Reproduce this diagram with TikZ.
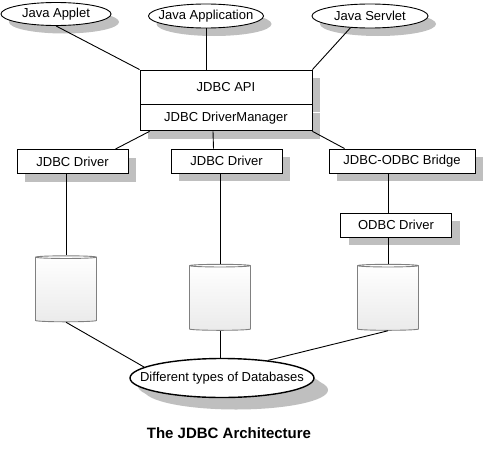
\documentclass[tikz,border=0pt]{standalone}
\usepackage{fontspec}
\setmainfont{Liberation Sans}
\usetikzlibrary{positioning,shapes.geometric,shadows}
\newdimen\shadowDist
\shadowDist=8pt

\begin{document}
\begin{tikzpicture}[
    x=1pt, y=-1pt,
    line width=0.9pt,
    font=\fontsize{13}{15}\selectfont,
    prog/.style={%
      draw,
      ellipse,
      fill=white,
      inner xsep=-8pt,
      inner ysep=0pt,
      minimum height=24pt,
      drop shadow={shadow xshift=\shadowDist, shadow yshift=-\shadowDist, fill=black!25, opacity=1},
    },
    box/.style={%
      draw,
      rectangle,
      fill=white,
      inner sep=0pt,
      minimum height=24pt,
      drop shadow={shadow xshift=\shadowDist, shadow yshift=-\shadowDist, fill=black!25, opacity=1},
    },
    store/.style={%
      draw=black!50,
      cylinder,
      shape border rotate=90,
      shape aspect=0.4,
      minimum width=61pt,
      minimum height=66pt,
      top color=white,
      bottom color=black!8,
    },
  ]

    \useasboundingbox (0,0) rectangle (500,463);

    \node [prog, minimum width=110pt, minimum height=23pt] (Applet) at (56,14) {Java Applet};
    \node [prog, minimum width=115pt] (App) at (206,16) {Java Application};
    \node [prog, minimum width=116pt] (Servlet) at (370,16) {Java Servlet};

    \node [box, minimum width=172pt, minimum height=34pt] (API) at (226,87) {JDBC API};
    \node [box, minimum width=172pt, minimum height=26pt, below=0pt of API] (DM) {JDBC DriverManager};

    \node [box, minimum width=111pt] (D1) at (72.5,161.5) {JDBC Driver};
    \node [box, minimum width=111pt] (D2) at (226.5,161) {JDBC Driver};
    \node [box, minimum width=146pt] (Br) at (402,161) {JDBC-ODBC Bridge};
    \node [box, minimum width=111pt] (OD) at (396,225) {ODBC Driver};

    \node [store] (C1) at (66,290) {};
    \node [store] (C2) at (220,298.5) {};
    \node [store] (C3) at (388,298.5) {};

    \node [prog, line width=1.4pt, inner xsep=-17pt, minimum width=184pt, minimum height=39pt,
      drop shadow={shadow xshift=14pt, shadow yshift=-12pt, fill=black!25, opacity=1}]
      (DB) at (222,378) {Different types of Databases};

    \node [font=\bfseries\fontsize{15}{18}\selectfont] (T) at (229,433) {The JDBC Architecture};


    \draw (Applet.south) -- (API.north west);
    \draw (App.south) -- (App.south |- API.north);
    \draw (Servlet.211) -- (API.north east);
    \draw ([xshift=10pt]DM.south west) -- ([xshift=-13pt]D1.north east);
    \draw ([xshift=-13pt]DM.south) -- ([xshift=-13pt]D2.north);
    \draw (DM.south east) -- ([xshift=16pt]Br.north west);
    \draw (C1.north |- D1.south) -- (C1.north);
    \draw (C2.north |- D2.south) -- (C2.north);
    \draw (C3.north |- Br.south) -- (C3.north |- OD.north);
    \draw (C3.north |- OD.south) -- (C3.north);
    \draw (C1.south) -- (DB.172);
    \draw (C2.south) -- (C2.south |- DB.north);
    \draw (C3.south) -- (DB.21);
\end{tikzpicture}
\end{document}
